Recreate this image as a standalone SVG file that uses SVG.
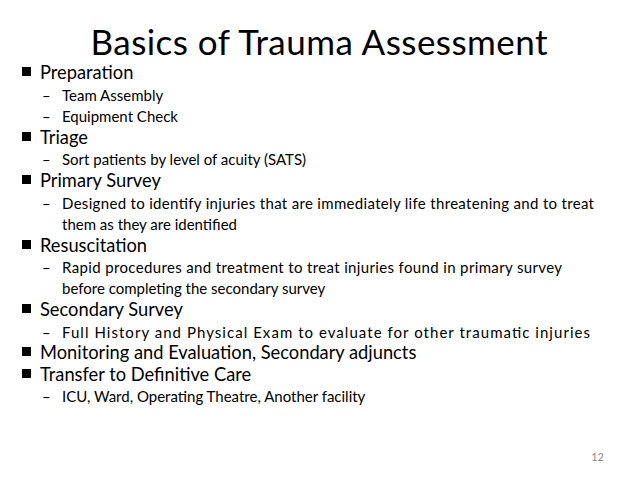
<svg xmlns="http://www.w3.org/2000/svg" width="638" height="479" viewBox="0 0 638 479">
<style>
text{font-family:Lato,"Open Sans",sans-serif;fill:#000}
.t{font-size:35px}
.l1{font-size:18.3px}
.l2{font-size:15px}
.b{fill:#000}
.pn{font-size:11px;fill:#8a8a8a}
</style>
<rect width="638" height="479" fill="#fff"/>
<text class="t" x="319" y="55" text-anchor="middle" textLength="457">Basics of Trauma Assessment</text>
<g class="b">
<rect x="22" y="67" width="9" height="9"/>
<rect x="22" y="132" width="9" height="9"/>
<rect x="22" y="175" width="9" height="9"/>
<rect x="22" y="240" width="9" height="9"/>
<rect x="22" y="304" width="9" height="9"/>
<rect x="22" y="347" width="9" height="9"/>
<rect x="22" y="369" width="9" height="9"/>
</g>
<g class="l1">
<text x="40" y="79">Preparation</text>
<text x="40" y="144">Triage</text>
<text x="40" y="187">Primary Survey</text>
<text x="40" y="252">Resuscitation</text>
<text x="40" y="316">Secondary Survey</text>
<text x="40" y="359">Monitoring and Evaluation, Secondary adjuncts</text>
<text x="40" y="381">Transfer to Definitive Care</text>
</g>
<g class="l2">
<text x="42" y="101">–</text><text x="62" y="101">Team Assembly</text>
<text x="42" y="122">–</text><text x="62" y="122">Equipment Check</text>
<text x="42" y="165">–</text><text x="62" y="165">Sort patients by level of acuity (SATS)</text>
<text x="42" y="209">–</text><text x="62" y="209" textLength="532">Designed to identify injuries that are immediately life threatening and to treat</text>
<text x="62" y="230">them as they are identified</text>
<text x="42" y="273">–</text><text x="62" y="273" textLength="500">Rapid procedures and treatment to treat injuries found in primary survey</text>
<text x="62" y="294">before completing the secondary survey</text>
<text x="42" y="338">–</text><text x="62" y="338" textLength="528">Full History and Physical Exam to evaluate for other traumatic injuries</text>
<text x="42" y="402">–</text><text x="62" y="402">ICU, Ward, Operating Theatre, Another facility</text>
</g>
<text class="pn" x="604" y="461" text-anchor="end">12</text>
</svg>
